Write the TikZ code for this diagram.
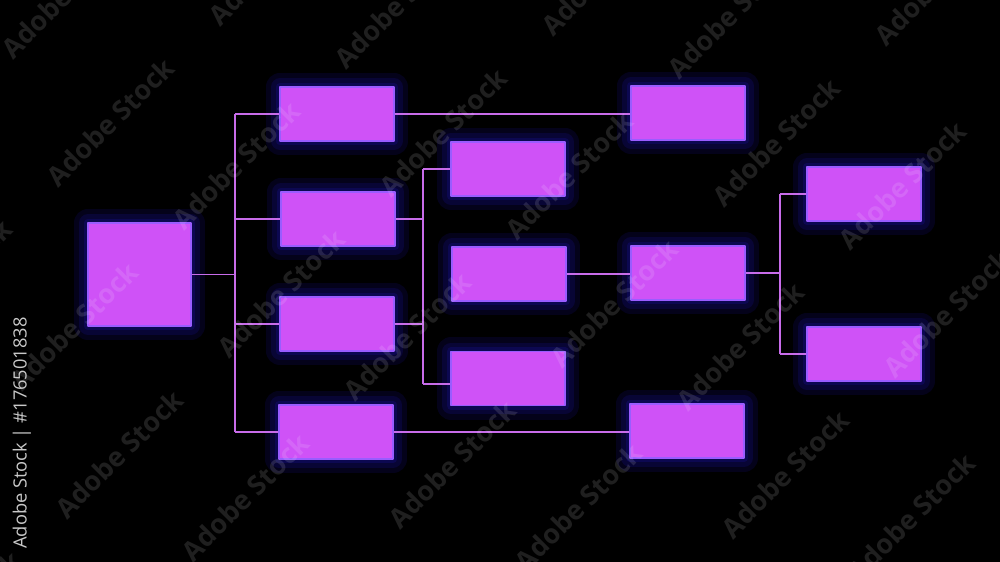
\documentclass[tikz,border=0pt]{standalone}
\usepackage{fontspec}
\usepackage{xcolor}
\RequirePackage{tikz}
\usetikzlibrary{calc}
\newfontfamily\stockfont{Open Sans}
\definecolor{BoxViolet}{HTML}{CF52F7}
\definecolor{EdgeViolet}{HTML}{9A5CFF}
\definecolor{GlowBlue}{HTML}{2A1CFF}
\definecolor{WireViolet}{HTML}{C86CEA}
\definecolor{IdGrey}{HTML}{C8C8C8}
\tikzset{
  glowbox/.style={fill=BoxViolet, draw=EdgeViolet, line width=0.4pt,
    inner sep=0pt, line join=round,
    minimum width=1.14cm, minimum height=0.54cm,
    preaction={draw=GlowBlue, line width=8pt, opacity=0.10},
    preaction={draw=GlowBlue, line width=5pt, opacity=0.12},
    preaction={draw=GlowBlue, line width=2.5pt, opacity=0.14}},
  rootbox/.style={glowbox, minimum width=1.03cm, minimum height=1.03cm},
  wire/.style={draw=WireViolet, line width=0.55pt},
  stockmark/.style={text=white, text opacity=0.12, rotate=45, inner sep=0pt,
    font=\stockfont\bfseries\fontsize{7.7}{9}\selectfont}
}

\begin{document}
\begin{tikzpicture}[x=0.01cm, y=-0.01cm]
  \fill[black] (0,0) rectangle (1000,562);
  \useasboundingbox (0,0) rectangle (1000,562);

  % boxes
  \node[rootbox] (root) at (139.5,274.5) {};
  \node[glowbox] (a1) at (337,114) {};
  \node[glowbox] (a2) at (338,219) {};
  \node[glowbox] (a3) at (337,324) {};
  \node[glowbox] (a4) at (336,432) {};
  \node[glowbox] (b1) at (508,169) {};
  \node[glowbox] (b2) at (509,274) {};
  \node[glowbox] (b3) at (508,378.5) {};
  \node[glowbox] (c1) at (688,113) {};
  \node[glowbox] (c2) at (688,273) {};
  \node[glowbox] (c3) at (687,431) {};
  \node[glowbox] (d1) at (864,194) {};
  \node[glowbox] (d2) at (864,354) {};

  \coordinate (busA) at (235,0);
  \coordinate (busB) at (423,0);
  \coordinate (busC) at (780,0);
  \coordinate (b3in) at ([yshift=-0.55mm]b3.west);

  % root to first column
  \draw[wire] (root.east) -- (root.east -| busA);
  \draw[wire] (busA |- a1) -- (busA |- a4);
  \foreach \n in {a1,a2,a3,a4}{%
    \draw[wire] (busA |- \n) -- (\n.west);
  }
  \draw[wire] (a1.east) -- (a1.east -| c1.west);
  \draw[wire] (a4.east) -- (a4.east -| c3.west);

  % middle bus
  \draw[wire] (a2.east) -- (a2.east -| busB);
  \draw[wire] (a3.east) -- (a3.east -| busB);
  \draw[wire] (busB |- b1) -- (busB |- b3in);
  \draw[wire] (busB |- b1) -- (b1.west);
  \draw[wire] (busB |- b3in) -- (b3in);
  \draw[wire] (b2.east) -- (b2.east -| c2.west);

  % right bus
  \draw[wire] (c2.east) -- (c2.east -| busC);
  \draw[wire] (busC |- d1) -- (busC |- d2);
  \foreach \n in {d1,d2}{%
    \draw[wire] (busC |- \n) -- (\n.west);
  }

  % watermark
  \begin{scope}
    \clip (0,0) rectangle (1000,562);
    \foreach \i in {-3,...,3}{%
      \foreach \j in {-1,...,3}{%
        \foreach \k/\dx/\dy in {a/0/0,b/126/43}{%
          \pgfmathsetmacro{\wx}{110+333*\i+171*\j+\dx}
          \pgfmathsetmacro{\wy}{122+10*\i+171*\j+\dy}
          \pgfmathtruncatemacro{\keep}{and(and(\wx>-60,\wx<1060),and(\wy>-60,\wy<620))}
          \ifnum\keep=1
            \node[stockmark] (wm\i\j\k) at (\wx,\wy) {Adobe Stock};
          \fi
        }
      }
    }
  \end{scope}
  \node[text=IdGrey, rotate=90, inner sep=0pt,
    font=\stockfont\fontsize{5.2}{6}\selectfont] (stockid) at (22,433)
    {Adobe Stock | \#176501838};
\end{tikzpicture}
\end{document}
